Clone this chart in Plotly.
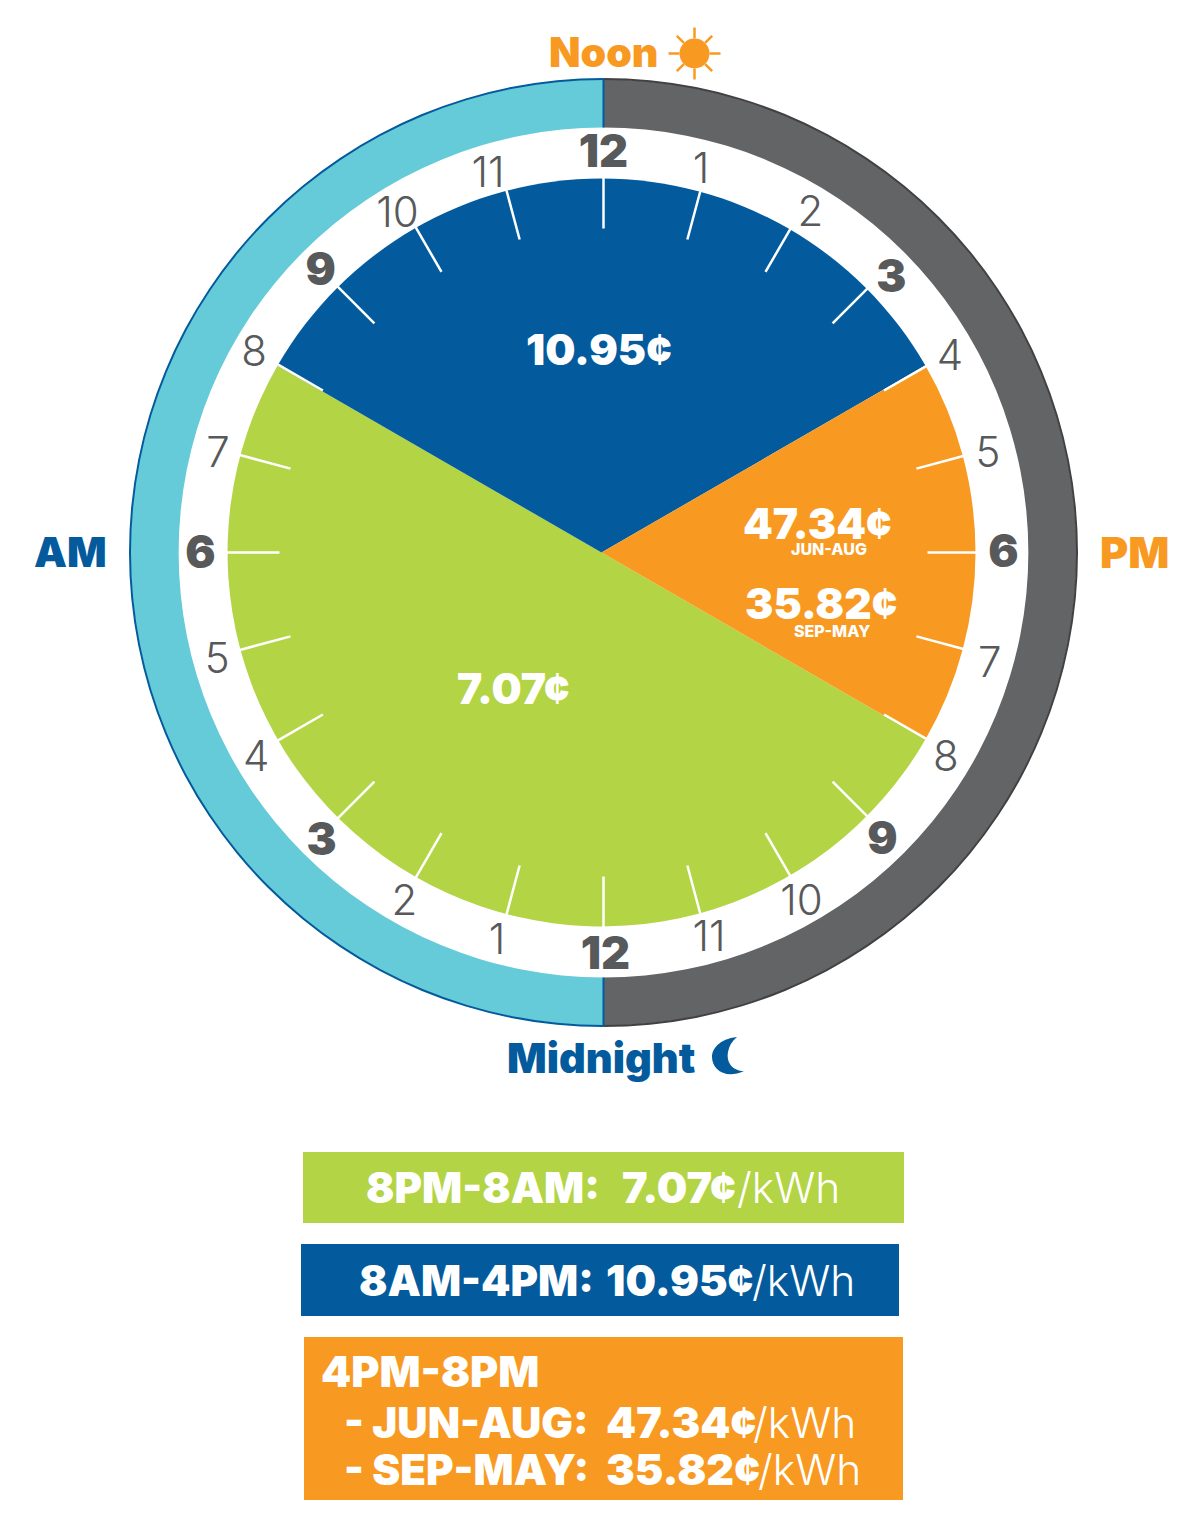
import math
import plotly.graph_objects as go

W, H = 1189, 1536
PAGE_MARGIN = 8  # the browser's default body margin
FW, FH = W - 2 * PAGE_MARGIN, H - 2 * PAGE_MARGIN
CX, CY, RMAX = 603.5, 552.5, 478
PIE_CX = 601.5

# --- data ---
ring_names = ["AM", "PM"]
ring_centers = [270, 90]
ring_widths = [180, 180]
ring_colors = ["#66CBD9", "#636466"]
ring_lines = ["#035A9C", "#414042"]

slice_names = ["8PM-8AM", "8AM-4PM", "4PM-8PM"]
slice_start_hours = [20, 8, 16]
slice_spans = [12, 8, 4]
slice_colors = ["#B3D444", "#035A9C", "#F89A22"]

hours = list(range(24))
hour_labels = [12, 1, 2, 3, 4, 5, 6, 7, 8, 9, 10, 11] * 2
major_labels = [12, 3, 6, 9]

FB = "Inter"
DARK = "#58595B"
BLUE = "#035A9C"
ORANGE = "#F89A22"

# hand-placement of the dial's numerals, pixels right/down from the regular circle
nudges = [(2, 5), (-3, 5), (1, 6), (1, 8), (-1, 8), (0, 6), (-3, 4), (1, 8), (-3, 3), (0, 4), (-6, 10), (-12, 10),
          (0, 3), (-6, 6), (7, 9), (5, 11), (0, 7), (-2, 8), (0, 3), (0, 10), (-4, 8), (-4, 7), (-2, 6), (2, 2)]


def ang(h):
    return ((h - 12) * 15) % 360


def label_pos(h, r=400):
    a = math.radians(ang(h))
    dx, dy = nudges[h]
    x = r * math.sin(a) + dx
    y = r * math.cos(a) - dy
    return math.hypot(x, y), math.degrees(math.atan2(x, y)) % 360


fig = go.Figure()
for n, c, w, col, lc in zip(ring_names, ring_centers, ring_widths, ring_colors, ring_lines):
    fig.add_trace(go.Barpolar(name=n, r=[48], base=[425], theta=[c], width=[w], subplot="polar",
                              marker=dict(color=col, line=dict(width=0)), hoverinfo="skip"))
    fig.add_trace(go.Barpolar(name=n + " rim", r=[2], base=[472.5], theta=[c], width=[w], subplot="polar",
                              marker=dict(color=lc, line=dict(width=0)), hoverinfo="skip"))
fig.add_trace(go.Scatterpolar(r=[425, 474, None, 425, 474], theta=[0, 0, None, 180, 180], subplot="polar",
                              mode="lines", connectgaps=False,
                              line=dict(color=BLUE, width=2), hoverinfo="skip"))

for n, s, sp, col in zip(slice_names, slice_start_hours, slice_spans, slice_colors):
    fig.add_trace(go.Barpolar(name=n, r=[374], base=[0], theta=[ang(s + sp / 2)], width=[sp * 15], subplot="polar2",
                              marker=dict(color=col, line=dict(width=0)), hoverinfo="skip"))

tick_r, tick_t = [], []
for h in hours:
    tick_r += [374.5 + (PIE_CX - CX) * math.sin(math.radians(ang(h))), 324, None]
    tick_t += [ang(h), ang(h), None]
fig.add_trace(go.Scatterpolar(r=tick_r, theta=tick_t, mode="lines", connectgaps=False, subplot="polar3",
                              line=dict(color="white", width=2.5), hoverinfo="skip"))

minor = [(h, l) for h, l in zip(hours, hour_labels) if l not in major_labels]
major = [(h, l) for h, l in zip(hours, hour_labels) if l in major_labels]
for group, size, weight in [(minor, 42, 300), (major, 45, 900)]:
    pos = [label_pos(h) for h, _ in group]
    fig.add_trace(go.Scatterpolar(r=[p[0] for p in pos], theta=[p[1] for p in pos],
                                  text=[str(l) for _, l in group], mode="text", subplot="polar3",
                                  textfont=dict(family=FB, size=size, color=DARK, weight=weight),
                                  textposition="middle center", hoverinfo="skip"))


def px(x):
    return (x - PAGE_MARGIN) / FW


def py(y):
    return 1 - (y - PAGE_MARGIN) / FH


def note(x, y, text, size, color, weight=900, anchor="center"):
    fig.add_annotation(x=px(x), y=py(y), xref="paper", yref="paper", text=text, showarrow=False,
                       xanchor=anchor, yanchor="middle",
                       font=dict(family=FB, size=size, color=color, weight=weight))


# rate labels inside the dial
note(599, 350, "10.95¢", 42.5, "white")
note(513, 688, "7.07¢", 42.5, "white")
note(817, 523, "47.34¢", 42.5, "white")
note(829, 549, "JUN-AUG", 16, "white", 800)
note(821, 603, "35.82¢", 42.5, "white")
note(832, 631, "SEP-MAY", 16, "white", 800)

# side captions
note(603, 52, "Noon", 41, ORANGE)
note(70, 552, "AM", 41.5, BLUE)
note(1134, 552, "PM", 43, ORANGE)
note(601, 1058, "Midnight", 41.5, BLUE)

# legend boxes
shapes = []
for (x0, y0, x1, y1, c) in [(303, 1152, 904, 1223, slice_colors[0]),
                            (301, 1244, 899, 1316, slice_colors[1]),
                            (304, 1337, 903, 1500, slice_colors[2])]:
    shapes.append(dict(type="rect", xref="paper", yref="paper", x0=px(x0), x1=px(x1),
                       y0=py(y1), y1=py(y0), fillcolor=c, line=dict(width=0), layer="below"))

legend_rows = [
    (1187, 364, "8PM-8AM:", 620, "7.07¢", 735),
    (1280, 357, "8AM-4PM:", 604, "10.95¢", 750),
    (1422, 342, "- JUN-AUG:", 604, "47.34¢", 751),
    (1469, 342, "- SEP-MAY:", 604, "35.82¢", 756),
]
for y, x1, label, x2, rate, x3 in legend_rows:
    note(x1, y, label, 42, "white", 900, "left")
    note(x2, y, rate, 43, "white", 900, "left")
    note(x3, y, "/kWh", 42.5, "white", 300, "left")
note(319, 1371, "4PM-8PM", 43, "white", 900, "left")

# sun icon
sx, sy = 694.5, 53.5
shapes.append(dict(type="circle", xref="paper", yref="paper", x0=px(sx - 15), x1=px(sx + 15),
                   y0=py(sy + 15), y1=py(sy - 15), fillcolor=ORANGE, line=dict(width=0)))
for k in range(8):
    a = math.radians(k * 45)
    r0 = 15
    r1 = 26 if k % 2 == 0 else 25
    shapes.append(dict(type="line", xref="paper", yref="paper",
                       x0=px(sx + r0 * math.cos(a)), y0=py(sy + r0 * math.sin(a)),
                       x1=px(sx + r1 * math.cos(a)), y1=py(sy + r1 * math.sin(a)),
                       line=dict(color=ORANGE, width=2.5)))


# moon icon
def P(x, y):
    return f"{px(x)} {py(y)}"


moon = (f"M{P(737, 1037)} C{P(719, 1039)} {P(712, 1049)} {P(712, 1057)} "
        f"C{P(712, 1069)} {P(725, 1080)} {P(744, 1071)} "
        f"C{P(733, 1071)} {P(726, 1063)} {P(728, 1052)} C{P(729, 1046)} {P(732, 1041)} {P(737, 1037)} Z")
shapes.append(dict(type="path", xref="paper", yref="paper", path=moon, fillcolor=BLUE, line=dict(width=0)))


def polar_layout(cx):
    return dict(
        domain=dict(x=[px(cx - RMAX), px(cx + RMAX)], y=[py(CY + RMAX), py(CY - RMAX)]),
        bgcolor="rgba(0,0,0,0)", barmode="overlay",
        radialaxis=dict(range=[0, RMAX], visible=False),
        angularaxis=dict(direction="clockwise", rotation=90, visible=False),
    )


fig.update_layout(
    width=FW, height=FH, margin=dict(l=0, r=0, t=0, b=0), showlegend=False,
    paper_bgcolor="white", plot_bgcolor="white", shapes=shapes,
    polar=polar_layout(CX), polar2=polar_layout(PIE_CX), polar3=polar_layout(CX),
)
fig.write_html("out.html", config=dict(displayModeBar=False))
